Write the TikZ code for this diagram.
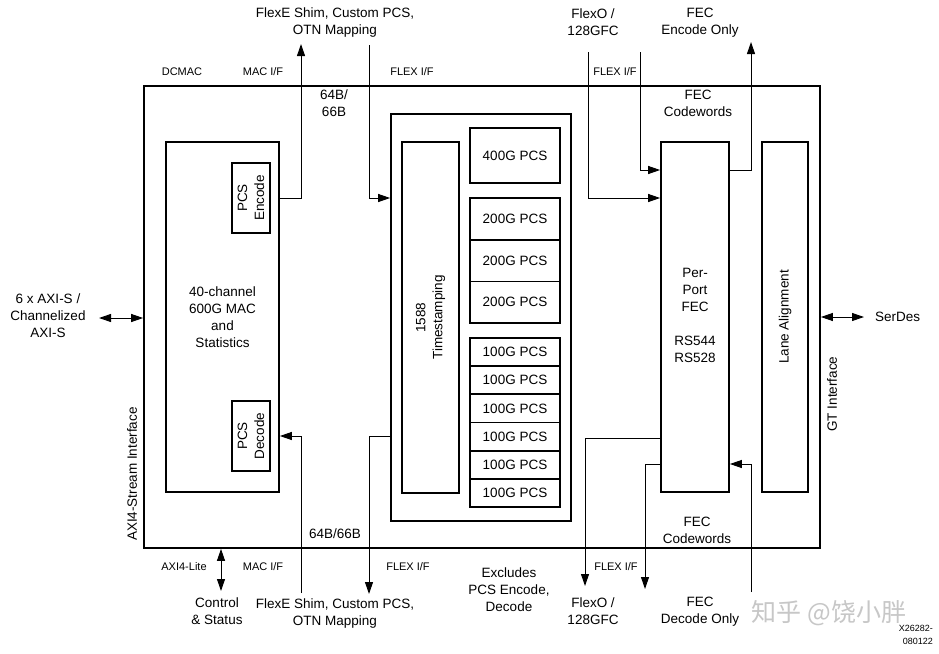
\documentclass[tikz,border=0pt]{standalone}
\usepackage{fontspec}
\setmainfont{Liberation Sans}
\newfontfamily\cjk{Noto Sans CJK SC}
\usetikzlibrary{arrows.meta}
\begin{document}
\begin{tikzpicture}[x=1pt,y=-1pt,
  box/.style={draw, line width=1.7pt, inner sep=0pt, font=\fontsize{13.5}{17}\selectfont, align=center},
  pcsbox/.style={box, minimum width=90pt},
  conn/.style={line width=1pt},
  tip/.style={-{Triangle[length=12pt,width=8pt]}},
  dtip/.style={{Triangle[length=12pt,width=8pt]}-{Triangle[length=12pt,width=8pt]}},
  lbl/.style={font=\fontsize{13.5}{17}\selectfont, align=center, inner sep=0pt},
  sml/.style={font=\fontsize{11}{13}\selectfont, align=center, inner sep=0pt},
]
\useasboundingbox (0,0) rectangle (939,653);
\fill[white] (0,0) rectangle (939,653);

% main boxes
\node[box, minimum width=676pt, minimum height=462pt] (outer) at (482,317) {};
\node[box, minimum width=113pt, minimum height=350pt] (mac) at (222.5,317) {40-channel\\600G MAC\\and\\Statistics};
\node[box, minimum width=70pt, minimum height=38pt, rotate=90] (enc) at (251,198) {PCS\\Encode};
\node[box, minimum width=70pt, minimum height=38pt, rotate=90] (dec) at (251,436) {PCS\\Decode};
\node[box, minimum width=180pt, minimum height=407pt] (flex) at (481,317.5) {};
\node[box, minimum width=57pt, minimum height=351pt] (ts) at (430.5,317.5) {};
\node[lbl, rotate=90] (tstxt) at (ts.center) {1588\\Timestamping};
\node[pcsbox, minimum height=55pt] (p400) at (515,155.5) {400G PCS};
\node[pcsbox, minimum height=41.7pt] (p200a) at (515,218.8) {200G PCS};
\node[pcsbox, minimum height=41.7pt] (p200b) at (515,260.5) {200G PCS};
\node[pcsbox, minimum height=41.7pt] (p200c) at (515,302.2) {200G PCS};
\node[pcsbox, minimum height=28.2pt] (p100a) at (515,352.1) {100G PCS};
\node[pcsbox, minimum height=28.2pt] (p100b) at (515,380.3) {100G PCS};
\node[pcsbox, minimum height=28.2pt] (p100c) at (515,408.4) {100G PCS};
\node[pcsbox, minimum height=28.2pt] (p100d) at (515,436.6) {100G PCS};
\node[pcsbox, minimum height=28.2pt] (p100e) at (515,464.8) {100G PCS};
\node[pcsbox, minimum height=28.2pt] (p100f) at (515,492.9) {100G PCS};
\node[box, minimum width=68pt, minimum height=350pt] (fec) at (695,317) {};
\node[lbl] (fectxt) at (695,315) {Per-\\Port\\FEC\\[17pt]RS544\\RS528};
\node[box, minimum width=46pt, minimum height=350pt] (lane) at (785,317) {};
\node[lbl, rotate=90] (lanetxt) at (lane.center) {Lane Alignment};

% free ends and levels
\coordinate (encOut) at (301,44);
\coordinate (flexInTop) at (369,45);
\coordinate (flexOutBot) at (369,594);
\coordinate (decInBot) at (301,593);
\coordinate (flexoTop) at (588,52);
\coordinate (flexTop2) at (640,52);
\coordinate (fecEncOut) at (751,42);
\coordinate (flexoBot) at (585,586);
\coordinate (flexBot2) at (645,589);
\coordinate (fecDecIn) at (751,592);
\coordinate (serdes) at (864,317);
\coordinate (axis) at (99,318);
\coordinate (ctrl) at (221,591);
\coordinate (lvA) at (0,170);
\coordinate (lvB) at (0,438);
\coordinate (lvC) at (0,464);

% connectors
\draw[conn,tip] (mac.east |- enc.center) -| (encOut);
\draw[conn,tip] (flexInTop) |- (flex.west |- enc.center);
\draw[conn,tip] (flex.west |- dec.center) -| (flexOutBot);
\draw[conn,tip] (decInBot) |- (mac.east |- dec.center);
\draw[conn,tip] (flexoTop) |- (fec.west |- enc.center);
\draw[conn,tip] (flexTop2) |- (fec.west |- lvA);
\draw[conn,tip] (fec.east |- lvA) -| (fecEncOut);
\draw[conn,tip] (fec.west |- lvB) -| (flexoBot);
\draw[conn,tip] (fec.west |- lvC) -| (flexBot2);
\draw[conn,tip] (fecDecIn) |- (fec.east |- lvC);
\draw[conn,dtip] (outer.east) -- (serdes);
\draw[conn,dtip] (axis) -- (outer.west |- axis);
\draw[conn,dtip] (outer.south -| ctrl) -- (ctrl);

% labels
\node[lbl] (t1) at (335,22.5) {FlexE Shim, Custom PCS,\\OTN Mapping};
\node[sml] (t2) at (182,72) {DCMAC};
\node[sml] (t3) at (263,72) {MAC I/F};
\node[sml] (t4) at (412,72) {FLEX I/F};
\node[lbl] (t5) at (334,103) {64B/\\66B};
\node[lbl] (t6) at (593,22.5) {FlexO /\\128GFC};
\node[lbl] (t7) at (700,22.5) {FEC\\Encode Only};
\node[sml] (t8) at (615,72) {FLEX I/F};
\node[lbl] (t9) at (698,103.5) {FEC\\Codewords};
\node[lbl] (t10) at (48,316) {6 x AXI-S /\\Channelized\\AXI-S};
\node[lbl, rotate=90] (t11) at (132,474) {AXI4-Stream Interface};
\node[lbl, rotate=90] (t12) at (832,394) {GT Interface};
\node[lbl, anchor=west] (t13) at (875,317) {SerDes};
\node[lbl] (t14) at (335,534) {64B/66B};
\node[sml] (t15) at (184,567) {AXI4-Lite};
\node[sml] (t16) at (263,567) {MAC I/F};
\node[sml] (t17) at (408,567) {FLEX I/F};
\node[lbl] (t18) at (217,611.5) {Control\\\& Status};
\node[lbl] (t19) at (335,613.5) {FlexE Shim, Custom PCS,\\OTN Mapping};
\node[lbl] (t20) at (509,590) {Excludes\\PCS Encode,\\Decode};
\node[lbl] (t21) at (697,530.5) {FEC\\Codewords};
\node[sml] (t22) at (616,567) {FLEX I/F};
\node[lbl] (t23) at (593,611.5) {FlexO /\\128GFC};
\node[lbl] (t24) at (700,611.5) {FEC\\Decode Only};
\node[font=\fontsize{9}{13}\selectfont, align=right, inner sep=0pt, anchor=east] (t25) at (933,634.5) {X26282-\\080122};
\node[font=\cjk\fontsize{25}{25}\selectfont, text=black!22, inner sep=0pt] (wm) at (829,613) {知乎 @饶小胖};
\end{tikzpicture}
\end{document}
